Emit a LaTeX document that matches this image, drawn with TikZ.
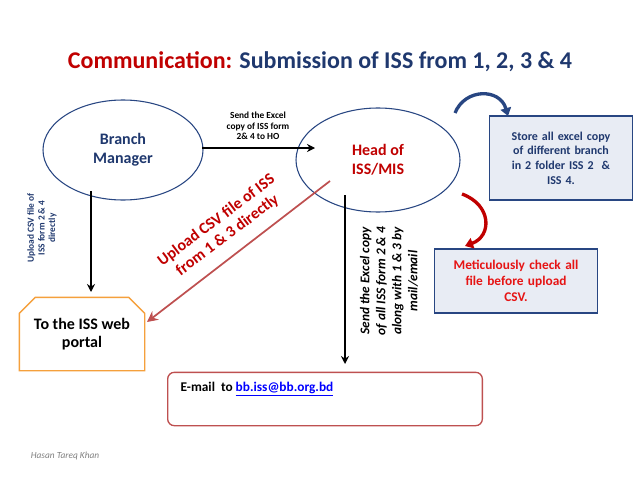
\documentclass[tikz,border=0pt]{standalone}
\usepackage{fontspec}
\setmainfont{Carlito}
\usetikzlibrary{shapes.geometric,shapes.misc,arrows.meta}
\definecolor{navy}{RGB}{31,56,110}
\definecolor{dred}{RGB}{192,0,0}
\definecolor{bred}{RGB}{230,20,20}
\definecolor{boxfill}{RGB}{232,236,244}
\definecolor{boxline}{RGB}{40,70,130}
\definecolor{ored}{RGB}{245,160,60}
\definecolor{rosy}{RGB}{190,80,80}
\begin{document}
\begin{tikzpicture}[x=0.75pt,y=-0.75pt,
  ell/.style={ellipse,draw=boxline,line width=0.8pt,fill=white,inner sep=0pt},
  box/.style={draw=boxline,line width=1pt,fill=boxfill,align=center,font=\bfseries\small,inner sep=2pt},
  arr/.style={-{Stealth[length=6pt,width=6pt]},line width=1.4pt},
  lbl/.style={font=\bfseries\scriptsize,align=center,inner sep=1pt}]
\useasboundingbox (0,0) rectangle (638,478);
\node (title) at (320,62) {\fontsize{18}{22}\selectfont\bfseries\textcolor{dred}{Communication:} \textcolor{navy}{Submission of ISS from 1, 2, 3 \& 4}};
\node[ell,minimum width=120pt,minimum height=75pt,font=\bfseries\large,text=navy,align=center] (bm) at (123,150) {Branch\\Manager};
\node[ell,minimum width=123pt,minimum height=78pt,font=\bfseries\large,text=dred,align=center] (head) at (378,160) {Head of\\ISS/MIS};
\node[box,text=navy,minimum width=107pt,minimum height=63pt,text width=100pt] (store) at (561,158) {Store all excel copy of different branch in 2 folder ISS 2~~\&\\ ISS 4.};
\node[box,text=bred,minimum width=120pt,minimum height=48pt,text width=118pt,font=\bfseries] (check) at (516,281) {Meticulously check all\\file before upload\\CSV.};
\node[chamfered rectangle,chamfered rectangle corners={north west,north east},chamfered rectangle xsep=6pt,chamfered rectangle ysep=6pt,draw=ored,line width=1pt,fill=white,minimum width=94pt,minimum height=55pt,inner sep=0pt,align=center,font=\bfseries\large] (portal) at (82,334) {To the ISS web\\portal};
\node[rectangle,draw=rosy,line width=1pt,rounded corners=5pt,minimum width=236pt,minimum height=40pt,inner sep=0pt] (mail) at (325,399) {};
\node[anchor=west,font=\bfseries] (mailt) at (176,389) {E-mail~ to \textcolor{blue}{\underline{bb.iss@bb.org.bd}}};
\coordinate (b1) at (202,148);
\coordinate (b2) at (315,148);
\draw[arr] (b1) -- (b2);
\node[lbl] (l1) at (258,126) {Send the Excel\\copy of ISS form\\2\& 4 to HO};
\coordinate (d1) at (91,191);
\coordinate (d2) at (91,292);
\draw[arr] (d1) -- (d2);
\node[lbl,text=navy,rotate=90] (l2) at (42,228) {Upload CSV file of\\ISS form 2 \& 4\\directly};
\coordinate (r1) at (330,181);
\coordinate (r2) at (147,322);
\draw[-{Stealth[length=8pt,width=8pt]},line width=1.3pt,draw=rosy] (r1) -- (r2);
\node[font=\bfseries\large,text=dred,rotate=37,align=center,inner sep=1pt] (l3) at (222,228) {Upload CSV file of ISS\\from 1 \& 3 directly};
\coordinate (h1) at (345,195);
\coordinate (h2) at (345,364);
\draw[-{Stealth[length=6pt,width=6pt]},line width=1.1pt] (h1) -- (h2);
\node[font=\bfseries\itshape,rotate=90,align=center,inner sep=0pt] (l4) at (389,281) {Send the Excel copy\\of all ISS form 2 \& 4\\along with 1 \& 3 by\\mail/email};
\coordinate (c1) at (455,113);
\draw[-{Triangle[length=6pt,width=8pt]},line width=2.5pt,draw=boxline] (c1) .. controls (465,88) and (500,88) .. (508,116);
\coordinate (c2) at (462,194);
\draw[-{Triangle[length=6pt,width=8pt]},line width=2.5pt,draw=dred] (c2) .. controls (492,205) and (492,236) .. (465,246);
\node[font=\itshape\scriptsize,text=gray] (auth) at (65,456) {Hasan Tareq Khan};
\end{tikzpicture}
\end{document}
